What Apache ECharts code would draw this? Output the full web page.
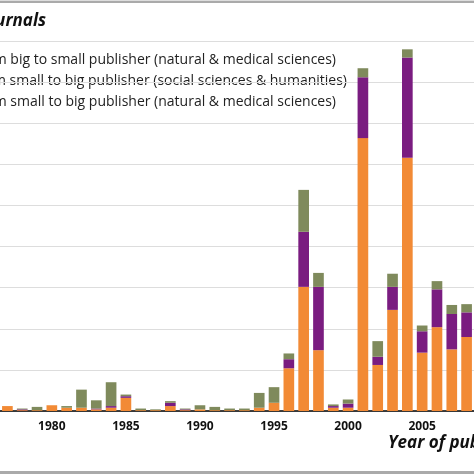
<!DOCTYPE html><html><head><meta charset="utf-8"><script src="https://cdn.jsdelivr.net/npm/echarts@6/dist/echarts.min.js"></script></head><body style="margin:0"><div id="c" style="width:474px;height:474px"></div><script>
const years=[];for(let y=1977;y<=2008;y++)years.push(String(y));
const orangeSmallToBigNat=[6,1,1,7,4,4,2,4,16,1,1,6,1,2,1,1,1,4,10,52,151,74,4,4,332,56,123,308,71,102,75,90];
const purpleSmallToBigSoc=[0,1,0,0,0,0,1,2,2,0,0,4,1,0,0,0,0,0,0,11,67,77,2,5,74,10,28,122,26,46,43,30];
const greenBigToSmallNat=[0,1,4,0,2,22,10,29,2,2,1,2,1,5,4,2,2,18,19,7,51,17,2,5,11,19,16,10,7,10,11,10];
const names=['Flipped from big to small publisher (natural & medical sciences)','Flipped from small to big publisher (social sciences & humanities)','Flipped from small to big publisher (natural & medical sciences)'];
const ch=echarts.init(document.getElementById('c'));
const bar=(n,d,c)=>({name:n,type:'bar',stack:'a',data:d,itemStyle:{color:c},barCategoryGap:'28%'});
ch.setOption({animation:false,
grid:{left:-11,right:-46,top:0,bottom:63},
xAxis:{type:'category',data:years,axisLine:{lineStyle:{color:'#000',width:1.5}},axisTick:{lineStyle:{color:'#000',width:1.5},length:5,interval:0},
axisLabel:{interval:(i,v)=>+v%5===0,color:'#111',fontWeight:'bold',fontSize:12,fontFamily:'Open Sans',margin:10}},
yAxis:{type:'value',min:0,max:500,interval:50,axisLabel:{show:false},splitLine:{lineStyle:{color:'#ddd'}}},
series:[bar(names[2],orangeSmallToBigNat,'#f28a35'),bar(names[1],purpleSmallToBigSoc,'#7a1c80'),bar(names[0],greenBigToSmallNat,'#7f8a5c')],
graphic:[
{type:'text',right:428,top:13,style:{text:'Journals',font:'italic bold 17px "Open Sans"',fill:'#111'}},
{type:'text',right:138,top:53,style:{text:names[0],font:'14px "Open Sans"',fill:'#222'}},
{type:'text',right:127,top:74,style:{text:names[1],font:'14px "Open Sans"',fill:'#222'}},
{type:'text',right:138,top:95,style:{text:names[2],font:'14px "Open Sans"',fill:'#222'}},
{type:'text',left:388,top:435,style:{text:'Year of publication',font:'italic bold 17px "Open Sans"',fill:'#111'}},
{type:'rect',shape:{x:0,y:0,width:474,height:3},style:{fill:'#aaa'}},
{type:'rect',shape:{x:0,y:471,width:474,height:3},style:{fill:'#aaa'}}
]});
</script></body></html>
